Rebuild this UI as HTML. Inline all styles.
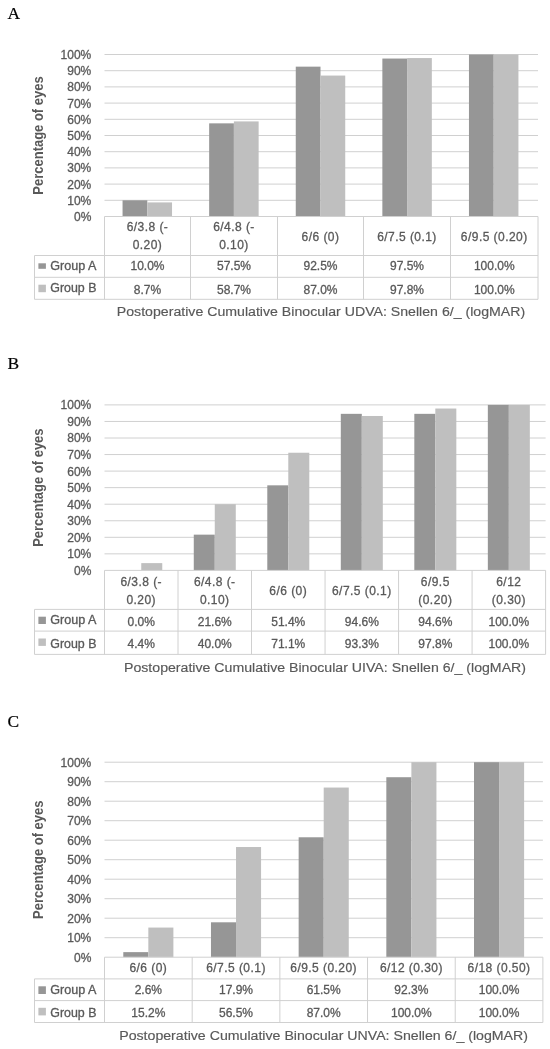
<!DOCTYPE html>
<html lang="en">
<head>
<meta charset="utf-8">
<title>Postoperative cumulative binocular visual acuity</title>
<style>
html,body{margin:0;padding:0;background:#fff;}
body{width:550px;height:1049px;overflow:hidden;}
svg{display:block;}
text{font-family:"Liberation Sans",sans-serif;font-size:12px;fill:#595959;stroke:#595959;stroke-width:0.3px;}
.pl{font-family:"Liberation Serif",serif;font-size:17.4px;fill:#000;stroke:#000;stroke-width:0.2px;}
.yt{font-weight:bold;font-size:15px;stroke-width:0;}
.xt{font-size:12.3px;stroke-width:0.15px;}
.c{text-anchor:middle;}
.r{text-anchor:end;}
.k{letter-spacing:0.45px;}
.g{stroke:#d0d0d0;stroke-width:1;fill:none;}
.a{fill:#969696;}
.b{fill:#bfbfbf;}
</style>
</head>
<body>
<svg width="550" height="1049" viewBox="0 0 550 1049">
<rect x="0" y="0" width="550" height="1049" fill="#ffffff"/>
<g>
<text class="pl" x="7.6" y="19.3">A</text>
<path class="g" d="M104.5 54.5H538M104.5 70.7H538M104.5 86.9H538M104.5 103.1H538M104.5 119.3H538M104.5 135.5H538M104.5 151.7H538M104.5 167.9H538M104.5 184.1H538M104.5 200.3H538"/>
<text class="r" x="91.3" y="58.9">100%</text>
<text class="r" x="91.3" y="75.1">90%</text>
<text class="r" x="91.3" y="91.3">80%</text>
<text class="r" x="91.3" y="107.5">70%</text>
<text class="r" x="91.3" y="123.7">60%</text>
<text class="r" x="91.3" y="139.9">50%</text>
<text class="r" x="91.3" y="156.1">40%</text>
<text class="r" x="91.3" y="172.3">30%</text>
<text class="r" x="91.3" y="188.5">20%</text>
<text class="r" x="91.3" y="204.7">10%</text>
<text class="r" x="91.3" y="220.9">0%</text>
<text class="yt c" transform="translate(42.8 135.5) rotate(-90)" textLength="118.4" lengthAdjust="spacingAndGlyphs">Percentage of eyes</text>
<rect class="a" x="122.56" y="200.3" width="24.74" height="16.2"/><rect class="b" x="147.3" y="202.41" width="24.74" height="14.09"/>
<rect class="a" x="209.16" y="123.35" width="24.74" height="93.15"/><rect class="b" x="233.9" y="121.41" width="24.74" height="95.09"/>
<rect class="a" x="295.76" y="66.65" width="24.74" height="149.85"/><rect class="b" x="320.5" y="75.56" width="24.74" height="140.94"/>
<rect class="a" x="382.36" y="58.55" width="24.74" height="157.95"/><rect class="b" x="407.1" y="58.06" width="24.74" height="158.44"/>
<rect class="a" x="468.96" y="54.5" width="24.74" height="162"/><rect class="b" x="493.7" y="54.5" width="24.74" height="162"/>
<path class="g" d="M104.5 216.5H538M34.5 255.5H538M34.5 277.3H538M34.5 299.3H538M34.5 255.5V299.3M104.5 216.5V299.3M190.5 216.5V299.3M277.5 216.5V299.3M363.5 216.5V299.3M450.5 216.5V299.3M538 216.5V299.3"/>
<text class="c k" x="147.5" y="231.2">6/3.8 (-</text><text class="c k" x="147.5" y="249.2">0.20)</text>
<text class="c k" x="234" y="231.2">6/4.8 (-</text><text class="c k" x="234" y="249.2">0.10)</text>
<text class="c k" x="320.5" y="240.8">6/6 (0)</text>
<text class="c k" x="407" y="240.8">6/7.5 (0.1)</text>
<text class="c k" x="494.25" y="240.8">6/9.5 (0.20)</text>
<rect class="a" x="38.4" y="263.3" width="7.5" height="5.5"/><text x="50.3" y="270" textLength="46.2" lengthAdjust="spacingAndGlyphs">Group A</text>
<text class="c" x="147.5" y="270.4">10.0%</text><text class="c" x="234" y="270.4">57.5%</text><text class="c" x="320.5" y="270.4">92.5%</text><text class="c" x="407" y="270.4">97.5%</text><text class="c" x="494.25" y="270.4">100.0%</text>
<rect class="b" x="38.4" y="284.7" width="7.5" height="7.5"/><text x="50.3" y="291.8" textLength="46.2" lengthAdjust="spacingAndGlyphs">Group B</text>
<text class="c" x="147.5" y="293.5">8.7%</text><text class="c" x="234" y="293.5">58.7%</text><text class="c" x="320.5" y="293.5">87.0%</text><text class="c" x="407" y="293.5">97.8%</text><text class="c" x="494.25" y="293.5">100.0%</text>
<text class="xt" x="116.8" y="316.4" textLength="408.4" lengthAdjust="spacingAndGlyphs">Postoperative Cumulative Binocular UDVA: Snellen 6/_ (logMAR)</text>
</g>
<g>
<text class="pl" x="7.6" y="369.4">B</text>
<path class="g" d="M104.5 404.9H545.6M104.5 421.45H545.6M104.5 438H545.6M104.5 454.55H545.6M104.5 471.1H545.6M104.5 487.65H545.6M104.5 504.2H545.6M104.5 520.75H545.6M104.5 537.3H545.6M104.5 553.85H545.6"/>
<text class="r" x="91.3" y="409.3">100%</text>
<text class="r" x="91.3" y="425.85">90%</text>
<text class="r" x="91.3" y="442.4">80%</text>
<text class="r" x="91.3" y="458.95">70%</text>
<text class="r" x="91.3" y="475.5">60%</text>
<text class="r" x="91.3" y="492.05">50%</text>
<text class="r" x="91.3" y="508.6">40%</text>
<text class="r" x="91.3" y="525.15">30%</text>
<text class="r" x="91.3" y="541.7">20%</text>
<text class="r" x="91.3" y="558.25">10%</text>
<text class="r" x="91.3" y="574.8">0%</text>
<text class="yt c" transform="translate(42.8 487.65) rotate(-90)" textLength="118.4" lengthAdjust="spacingAndGlyphs">Percentage of eyes</text>
<rect class="a" x="120.25" y="570.4" width="21" height="0"/><rect class="b" x="141.26" y="563.12" width="21" height="7.28"/>
<rect class="a" x="193.77" y="534.65" width="21" height="35.75"/><rect class="b" x="214.77" y="504.2" width="21" height="66.2"/>
<rect class="a" x="267.29" y="485.33" width="21" height="85.07"/><rect class="b" x="288.29" y="452.73" width="21" height="117.67"/>
<rect class="a" x="340.8" y="413.84" width="21" height="156.56"/><rect class="b" x="361.81" y="415.99" width="21" height="154.41"/>
<rect class="a" x="414.32" y="413.84" width="21" height="156.56"/><rect class="b" x="435.32" y="408.54" width="21" height="161.86"/>
<rect class="a" x="487.84" y="404.9" width="21" height="165.5"/><rect class="b" x="508.84" y="404.9" width="21" height="165.5"/>
<path class="g" d="M104.5 570.4H545.6M34.5 609.4H545.6M34.5 631.1H545.6M34.5 654.4H545.6M34.5 609.4V654.4M104.5 570.4V654.4M178.02 570.4V654.4M251.53 570.4V654.4M325.05 570.4V654.4M398.57 570.4V654.4M472.08 570.4V654.4M545.6 570.4V654.4"/>
<text class="c k" x="141.26" y="586.3">6/3.8 (-</text><text class="c k" x="141.26" y="604.3">0.20)</text>
<text class="c k" x="214.77" y="586.3">6/4.8 (-</text><text class="c k" x="214.77" y="604.3">0.10)</text>
<text class="c k" x="288.29" y="594.5">6/6 (0)</text>
<text class="c k" x="361.81" y="594.5">6/7.5 (0.1)</text>
<text class="c k" x="435.32" y="586.3">6/9.5</text><text class="c k" x="435.32" y="604.3">(0.20)</text>
<text class="c k" x="508.84" y="586.3">6/12</text><text class="c k" x="508.84" y="604.3">(0.30)</text>
<rect class="a" x="38.4" y="616.7" width="7.5" height="7.3"/><text x="50.3" y="624" textLength="46.2" lengthAdjust="spacingAndGlyphs">Group A</text>
<text class="c" x="141.26" y="625.5">0.0%</text><text class="c" x="214.77" y="625.5">21.6%</text><text class="c" x="288.29" y="625.5">51.4%</text><text class="c" x="361.81" y="625.5">94.6%</text><text class="c" x="435.32" y="625.5">94.6%</text><text class="c" x="508.84" y="625.5">100.0%</text>
<rect class="b" x="38.4" y="638.5" width="7.5" height="7.4"/><text x="50.3" y="647.5" textLength="46.2" lengthAdjust="spacingAndGlyphs">Group B</text>
<text class="c" x="141.26" y="647.5">4.4%</text><text class="c" x="214.77" y="647.5">40.0%</text><text class="c" x="288.29" y="647.5">71.1%</text><text class="c" x="361.81" y="647.5">93.3%</text><text class="c" x="435.32" y="647.5">97.8%</text><text class="c" x="508.84" y="647.5">100.0%</text>
<text class="xt" x="124" y="672" textLength="402" lengthAdjust="spacingAndGlyphs">Postoperative Cumulative Binocular UIVA: Snellen 6/_ (logMAR)</text>
</g>
<g>
<text class="pl" x="7.6" y="726.8">C</text>
<path class="g" d="M104.5 762.2H542.9M104.5 781.7H542.9M104.5 801.2H542.9M104.5 820.7H542.9M104.5 840.2H542.9M104.5 859.7H542.9M104.5 879.2H542.9M104.5 898.7H542.9M104.5 918.2H542.9M104.5 937.7H542.9"/>
<text class="r" x="91.3" y="766.6">100%</text>
<text class="r" x="91.3" y="786.1">90%</text>
<text class="r" x="91.3" y="805.6">80%</text>
<text class="r" x="91.3" y="825.1">70%</text>
<text class="r" x="91.3" y="844.6">60%</text>
<text class="r" x="91.3" y="864.1">50%</text>
<text class="r" x="91.3" y="883.6">40%</text>
<text class="r" x="91.3" y="903.1">30%</text>
<text class="r" x="91.3" y="922.6">20%</text>
<text class="r" x="91.3" y="942.1">10%</text>
<text class="r" x="91.3" y="961.6">0%</text>
<text class="yt c" transform="translate(42.8 859.7) rotate(-90)" textLength="118.4" lengthAdjust="spacingAndGlyphs">Percentage of eyes</text>
<rect class="a" x="123.29" y="952.13" width="25.05" height="5.07"/><rect class="b" x="148.34" y="927.56" width="25.05" height="29.64"/>
<rect class="a" x="210.97" y="922.3" width="25.05" height="34.91"/><rect class="b" x="236.02" y="847.03" width="25.05" height="110.17"/>
<rect class="a" x="298.65" y="837.28" width="25.05" height="119.92"/><rect class="b" x="323.7" y="787.55" width="25.05" height="169.65"/>
<rect class="a" x="386.33" y="777.22" width="25.05" height="179.98"/><rect class="b" x="411.38" y="762.2" width="25.05" height="195"/>
<rect class="a" x="474.01" y="762.2" width="25.05" height="195"/><rect class="b" x="499.06" y="762.2" width="25.05" height="195"/>
<path class="g" d="M104.5 957.2H542.9M34.5 978.9H542.9M34.5 1000.6H542.9M34.5 1022.5H542.9M34.5 978.9V1022.5M104.5 957.2V1022.5M192.18 957.2V1022.5M279.86 957.2V1022.5M367.54 957.2V1022.5M455.22 957.2V1022.5M542.9 957.2V1022.5"/>
<text class="c k" x="148.34" y="971.9">6/6 (0)</text>
<text class="c k" x="236.02" y="971.9">6/7.5 (0.1)</text>
<text class="c k" x="323.7" y="971.9">6/9.5 (0.20)</text>
<text class="c k" x="411.38" y="971.9">6/12 (0.30)</text>
<text class="c k" x="499.06" y="971.9">6/18 (0.50)</text>
<rect class="a" x="38.4" y="986.3" width="7.5" height="7.7"/><text x="50.3" y="993.7" textLength="46.2" lengthAdjust="spacingAndGlyphs">Group A</text>
<text class="c" x="148.34" y="993.6">2.6%</text><text class="c" x="236.02" y="993.6">17.9%</text><text class="c" x="323.7" y="993.6">61.5%</text><text class="c" x="411.38" y="993.6">92.3%</text><text class="c" x="499.06" y="993.6">100.0%</text>
<rect class="b" x="38.4" y="1007.8" width="7.5" height="7.6"/><text x="50.3" y="1016.8" textLength="46.2" lengthAdjust="spacingAndGlyphs">Group B</text>
<text class="c" x="148.34" y="1016.9">15.2%</text><text class="c" x="236.02" y="1016.9">56.5%</text><text class="c" x="323.7" y="1016.9">87.0%</text><text class="c" x="411.38" y="1016.9">100.0%</text><text class="c" x="499.06" y="1016.9">100.0%</text>
<text class="xt" x="119.2" y="1040" textLength="408.8" lengthAdjust="spacingAndGlyphs">Postoperative Cumulative Binocular UNVA: Snellen 6/_ (logMAR)</text>
</g>
</svg>
</body>
</html>
